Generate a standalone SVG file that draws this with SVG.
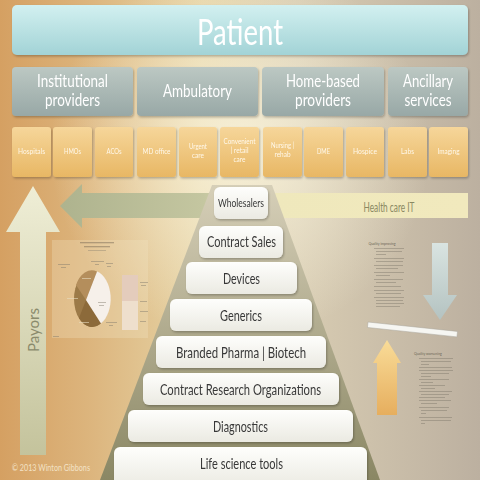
<svg xmlns="http://www.w3.org/2000/svg" width="480" height="480" viewBox="0 0 480 480">
<defs>
<linearGradient id="bg" x1="0" y1="0" x2="1" y2="0">
<stop offset="0" stop-color="#d5a062"/>
<stop offset="0.18" stop-color="#dcb47c"/>
<stop offset="0.42" stop-color="#e6d4a6"/>
<stop offset="0.62" stop-color="#d8ccb2"/>
<stop offset="1" stop-color="#bcb0a0"/>
</linearGradient>
<radialGradient id="glow" cx="240" cy="150" r="190" gradientUnits="userSpaceOnUse">
<stop offset="0" stop-color="#fbf6e0" stop-opacity="0.85"/>
<stop offset="1" stop-color="#fbf6e0" stop-opacity="0"/>
</radialGradient>
<linearGradient id="pat" x1="0" y1="0" x2="0" y2="1">
<stop offset="0" stop-color="#d2f0f0"/>
<stop offset="1" stop-color="#a2d3d6"/>
</linearGradient>
<linearGradient id="cat" x1="0" y1="0" x2="0" y2="1">
<stop offset="0" stop-color="#bcc8c3"/>
<stop offset="1" stop-color="#98a8a6"/>
</linearGradient>
<linearGradient id="org" x1="0" y1="0" x2="0" y2="1">
<stop offset="0" stop-color="#f6d69a"/>
<stop offset="1" stop-color="#e8b764"/>
</linearGradient>
<linearGradient id="pyr" x1="0" y1="0" x2="0" y2="1">
<stop offset="0" stop-color="#d6cfb8"/>
<stop offset="1" stop-color="#8a8764"/>
</linearGradient>
<linearGradient id="wbox" x1="0" y1="0" x2="0" y2="1">
<stop offset="0" stop-color="#fefefc"/>
<stop offset="1" stop-color="#ebeae2"/>
</linearGradient>
<linearGradient id="hit" x1="60" y1="0" x2="468" y2="0" gradientUnits="userSpaceOnUse">
<stop offset="0" stop-color="#aeb38e"/>
<stop offset="0.35" stop-color="#c4c6a0"/>
<stop offset="0.52" stop-color="#efe8bc"/>
<stop offset="1" stop-color="#f1e9bd"/>
</linearGradient>
<linearGradient id="pay" x1="0" y1="0" x2="0" y2="1">
<stop offset="0" stop-color="#efeed6"/>
<stop offset="1" stop-color="#c4c39c"/>
</linearGradient>
<linearGradient id="down" x1="0" y1="0" x2="0" y2="1">
<stop offset="0" stop-color="#dce9e8"/>
<stop offset="1" stop-color="#b2c4c4"/>
</linearGradient>
<linearGradient id="up" x1="0" y1="0" x2="0" y2="1">
<stop offset="0" stop-color="#f9dc98"/>
<stop offset="1" stop-color="#e6ae5e"/>
</linearGradient>
<filter id="sh" x="-10%" y="-10%" width="130%" height="140%">
<feDropShadow dx="1" dy="1.5" stdDeviation="1" flood-color="#000" flood-opacity="0.25"/>
</filter>
</defs>
<style>
text{font-family:Lato,"Liberation Sans",sans-serif;text-anchor:middle}
.w{fill:#ffffff}
.cat{font-size:16.5px}
.sm{font-size:7px;fill:#fff8ea}
.py{font-size:15px;fill:#383838}
.tl{fill:#7e786a;opacity:0.45}
</style>

<!-- background -->
<rect x="0" y="0" width="480" height="480" fill="url(#bg)"/>
<rect x="0" y="0" width="480" height="480" fill="url(#glow)"/>

<!-- connectors / arrows -->
<g id="connectors">
<path id="healthcare-it-arrow" d="M468,193 L82,193 L82,184 L60,206 L82,228 L82,218 L468,218 Z" fill="url(#hit)"/>
<path id="payors-arrow" d="M33,186 L60,232 L46,232 L46,455 L20,455 L20,232 L6,232 Z" fill="url(#pay)"/>
<path id="down-arrow" d="M432,243 L448,243 L448,295 L457,295 L440,320 L423,295 L432,295 Z" fill="url(#down)" opacity="0.9"/>
<path id="up-arrow" d="M387,340 L401,363 L397,363 L397,415 L377,415 L377,363 L373,363 Z" fill="url(#up)"/>
</g>
<text x="389" y="212" style="font-size:13px;fill:#8a8862" textLength="51" lengthAdjust="spacingAndGlyphs">Health care IT</text>
<text transform="translate(39,330) rotate(-90)" style="font-size:16px;fill:#8a8a6c" textLength="44" lengthAdjust="spacingAndGlyphs">Payors</text>

<!-- pyramid -->
<polygon points="212,185 272,185 380,480 100,480" fill="url(#pyr)"/>

<!-- Patient -->
<g id="patient" filter="url(#sh)">
<rect x="12" y="5" width="456" height="50" rx="5" fill="url(#pat)"/>
<text x="240" y="45" class="w" style="font-size:36px" textLength="86" lengthAdjust="spacingAndGlyphs">Patient</text>
</g>

<!-- categories -->
<g id="institutional" filter="url(#sh)">
<rect x="12" y="67" width="121" height="49" rx="4" fill="url(#cat)"/>
<text x="72.5" y="87" class="w cat" textLength="71" lengthAdjust="spacingAndGlyphs">Institutional</text>
<text x="72.5" y="106" class="w cat" textLength="55" lengthAdjust="spacingAndGlyphs">providers</text>
</g>
<g id="ambulatory" filter="url(#sh)">
<rect x="137" y="67" width="121" height="49" rx="4" fill="url(#cat)"/>
<text x="197.5" y="97" class="w cat" textLength="69" lengthAdjust="spacingAndGlyphs">Ambulatory</text>
</g>
<g id="home-based" filter="url(#sh)">
<rect x="262" y="67" width="122" height="49" rx="4" fill="url(#cat)"/>
<text x="323" y="87" class="w cat" textLength="74" lengthAdjust="spacingAndGlyphs">Home-based</text>
<text x="323" y="106" class="w cat" textLength="56" lengthAdjust="spacingAndGlyphs">providers</text>
</g>
<g id="ancillary" filter="url(#sh)">
<rect x="388" y="67" width="80" height="49" rx="4" fill="url(#cat)"/>
<text x="428" y="87" class="w cat" textLength="50" lengthAdjust="spacingAndGlyphs">Ancillary</text>
<text x="428" y="106" class="w cat" textLength="47" lengthAdjust="spacingAndGlyphs">services</text>
</g>

<!-- small orange boxes -->
<g id="hospitals" filter="url(#sh)"><rect x="12" y="127" width="39" height="50" rx="3" fill="url(#org)"/><text x="31.5" y="154" class="sm" textLength="27" lengthAdjust="spacingAndGlyphs">Hospitals</text></g>
<g id="hmos" filter="url(#sh)"><rect x="53" y="127" width="39" height="50" rx="3" fill="url(#org)"/><text x="72.5" y="154" class="sm" textLength="17" lengthAdjust="spacingAndGlyphs">HMOs</text></g>
<g id="acos" filter="url(#sh)"><rect x="95" y="127" width="38" height="50" rx="3" fill="url(#org)"/><text x="114" y="154" class="sm" textLength="15" lengthAdjust="spacingAndGlyphs">ACOs</text></g>
<g id="md-office" filter="url(#sh)"><rect x="137" y="127" width="39" height="50" rx="3" fill="url(#org)"/><text x="156.5" y="154" class="sm" textLength="28" lengthAdjust="spacingAndGlyphs">MD office</text></g>
<g id="urgent-care" filter="url(#sh)"><rect x="179" y="127" width="38" height="50" rx="3" fill="url(#org)"/><text x="198" y="149" class="sm" textLength="18" lengthAdjust="spacingAndGlyphs">Urgent</text><text x="198" y="158" class="sm" textLength="12" lengthAdjust="spacingAndGlyphs">care</text></g>
<g id="convenient-care" filter="url(#sh)"><rect x="220" y="127" width="39" height="50" rx="3" fill="url(#org)"/><text x="239.5" y="144" class="sm" textLength="32" lengthAdjust="spacingAndGlyphs">Convenient</text><text x="239.5" y="153" class="sm" textLength="18" lengthAdjust="spacingAndGlyphs">| retail</text><text x="239.5" y="162" class="sm" textLength="12" lengthAdjust="spacingAndGlyphs">care</text></g>
<g id="nursing-rehab" filter="url(#sh)"><rect x="263" y="127" width="39" height="50" rx="3" fill="url(#org)"/><text x="282.5" y="148" class="sm" textLength="23" lengthAdjust="spacingAndGlyphs">Nursing |</text><text x="282.5" y="157" class="sm" textLength="16" lengthAdjust="spacingAndGlyphs">rehab</text></g>
<g id="dme" filter="url(#sh)"><rect x="304" y="127" width="39" height="50" rx="3" fill="url(#org)"/><text x="323.5" y="154" class="sm" textLength="13" lengthAdjust="spacingAndGlyphs">DME</text></g>
<g id="hospice" filter="url(#sh)"><rect x="346" y="127" width="38" height="50" rx="3" fill="url(#org)"/><text x="365" y="154" class="sm" textLength="24" lengthAdjust="spacingAndGlyphs">Hospice</text></g>
<g id="labs" filter="url(#sh)"><rect x="388" y="127" width="39" height="50" rx="3" fill="url(#org)"/><text x="407.5" y="154" class="sm" textLength="13" lengthAdjust="spacingAndGlyphs">Labs</text></g>
<g id="imaging" filter="url(#sh)"><rect x="429" y="127" width="39" height="50" rx="3" fill="url(#org)"/><text x="448.5" y="154" class="sm" textLength="22" lengthAdjust="spacingAndGlyphs">Imaging</text></g>

<!-- pyramid boxes -->
<g id="wholesalers" filter="url(#sh)"><rect x="214" y="187" width="54" height="32" rx="6" fill="url(#wbox)"/><text x="241" y="207" class="py" style="font-size:12px" textLength="46" lengthAdjust="spacingAndGlyphs">Wholesalers</text></g>
<g id="contract-sales" filter="url(#sh)"><rect x="199" y="226" width="84" height="32" rx="6" fill="url(#wbox)"/><text x="241.5" y="247" class="py" textLength="69" lengthAdjust="spacingAndGlyphs">Contract Sales</text></g>
<g id="devices" filter="url(#sh)"><rect x="186" y="262" width="111" height="32" rx="6" fill="url(#wbox)"/><text x="241.5" y="284" class="py" textLength="37" lengthAdjust="spacingAndGlyphs">Devices</text></g>
<g id="generics" filter="url(#sh)"><rect x="170" y="299" width="142" height="32" rx="6" fill="url(#wbox)"/><text x="241" y="321" class="py" textLength="42" lengthAdjust="spacingAndGlyphs">Generics</text></g>
<g id="branded-pharma" filter="url(#sh)"><rect x="156" y="336" width="170" height="32" rx="6" fill="url(#wbox)"/><text x="241" y="358" class="py" textLength="130" lengthAdjust="spacingAndGlyphs">Branded Pharma | Biotech</text></g>
<g id="cro" filter="url(#sh)"><rect x="143" y="373" width="196" height="32" rx="6" fill="url(#wbox)"/><text x="240.5" y="395" class="py" textLength="161" lengthAdjust="spacingAndGlyphs">Contract Research Organizations</text></g>
<g id="diagnostics" filter="url(#sh)"><rect x="128" y="410" width="225" height="32" rx="6" fill="url(#wbox)"/><text x="240.5" y="432" class="py" textLength="55" lengthAdjust="spacingAndGlyphs">Diagnostics</text></g>
<g id="life-science-tools" filter="url(#sh)"><rect x="114" y="447" width="253" height="40" rx="6" fill="url(#wbox)"/><text x="241.5" y="469" class="py" textLength="83" lengthAdjust="spacingAndGlyphs">Life science tools</text></g>

<!-- pie chart panel -->
<g id="chart">
<rect x="52" y="240" width="96" height="98" fill="#f2e6c4" opacity="0.3"/>
<rect x="80" y="242" width="34" height="1.3" fill="#6e6250" opacity="0.45"/>
<rect x="84" y="246" width="26" height="1.3" fill="#6e6250" opacity="0.45"/>
<rect x="88" y="250" width="18" height="0.8" class="tl"/>
<rect x="58" y="264" width="12" height="1" class="tl"/><rect x="61" y="267" width="5" height="1" class="tl"/>
<rect x="91" y="261" width="13" height="1" class="tl"/><rect x="95" y="264" width="4" height="1" class="tl"/>
<rect x="106" y="263" width="7" height="1" class="tl"/><rect x="107" y="266" width="4" height="1" class="tl"/>
<ellipse cx="92" cy="299" rx="18" ry="28" fill="#9c7a48"/>
<path d="M86,300 L97,271.5 A18,28 0 0,0 76,285 Z" fill="#b48e5c"/>
<path d="M86,300 L79,318 A18,28 0 0,0 101,323.5 Z" fill="#8c6a3a"/>
<path d="M86,300 L97,271.5 A18,28 0 0,1 101,323.5 Z" fill="#f6f0ea"/>
<rect x="82" y="278" width="9" height="1" fill="#e8dcc0" opacity="0.6"/>
<rect x="67" y="298" width="11" height="1" fill="#e8dcc0" opacity="0.6"/>
<rect x="79" y="322" width="10" height="1" fill="#e8dcc0" opacity="0.6"/>
<rect x="98" y="302" width="8" height="1" class="tl"/><rect x="99" y="305" width="5" height="1" class="tl"/>
<rect x="106" y="322" width="11" height="1" class="tl"/><rect x="109" y="325" width="4" height="1" class="tl"/>
<rect x="122" y="275" width="16" height="26" fill="#e4ccbc"/>
<rect x="122" y="301" width="16" height="29" fill="#eedfcd"/>
<rect x="140" y="282" width="8" height="1" class="tl"/><rect x="141" y="285" width="5" height="1" class="tl"/>
<rect x="140" y="301" width="7" height="1" class="tl"/><rect x="140" y="311" width="8" height="1" class="tl"/>
<rect x="140" y="321" width="6" height="1" class="tl"/>
<rect x="53" y="336" width="6" height="1" class="tl"/>
</g>

<!-- text blocks right -->
<g id="quality-improving">
<text x="382" y="245" style="font-size:3.5px;fill:#6e6858">Quality improving</text>
<rect x="374" y="248" width="30" height="1" class="tl"/><rect x="376" y="251" width="26" height="1" class="tl"/><rect x="376" y="254" width="10" height="1" class="tl"/>
<rect x="374" y="258" width="30" height="1" class="tl"/><rect x="376" y="261" width="27" height="1" class="tl"/>
<rect x="374" y="265" width="29" height="1" class="tl"/><rect x="376" y="268" width="22" height="1" class="tl"/>
<rect x="374" y="272" width="30" height="1" class="tl"/><rect x="376" y="275" width="14" height="1" class="tl"/>
<rect x="374" y="279" width="29" height="1" class="tl"/><rect x="376" y="282" width="20" height="1" class="tl"/>
<rect x="374" y="286" width="27" height="1" class="tl"/>
<rect x="374" y="290" width="30" height="1" class="tl"/><rect x="376" y="293" width="25" height="1" class="tl"/>
<rect x="374" y="297" width="30" height="1" class="tl"/><rect x="376" y="300" width="27" height="1" class="tl"/>
<rect x="376" y="303" width="28" height="1" class="tl"/><rect x="376" y="306" width="24" height="1" class="tl"/>
</g>
<g id="quality-bar">
<rect x="368" y="322" width="90" height="5.5" fill="#f6f6f2" stroke="#aaa79c" stroke-width="0.5" transform="rotate(6 368 322)"/>
</g>
<g id="quality-worsening">
<text x="428" y="355" style="font-size:3.5px;fill:#6e6858">Quality worsening</text>
<rect x="419" y="358" width="34" height="1" class="tl"/><rect x="421" y="361" width="30" height="1" class="tl"/><rect x="421" y="364" width="8" height="1" class="tl"/>
<rect x="419" y="367" width="33" height="1" class="tl"/><rect x="419" y="370" width="34" height="1" class="tl"/><rect x="421" y="373" width="28" height="1" class="tl"/>
<rect x="421" y="376" width="10" height="1" class="tl"/><rect x="419" y="379" width="30" height="1" class="tl"/><rect x="421" y="382" width="12" height="1" class="tl"/>
<rect x="419" y="385" width="26" height="1" class="tl"/><rect x="421" y="388" width="14" height="1" class="tl"/>
<rect x="419" y="391" width="33" height="1" class="tl"/><rect x="421" y="394" width="28" height="1" class="tl"/>
<rect x="419" y="397" width="26" height="1" class="tl"/><rect x="419" y="400" width="32" height="1" class="tl"/><rect x="421" y="403" width="16" height="1" class="tl"/>
<rect x="419" y="407" width="30" height="1" class="tl"/><rect x="421" y="410" width="26" height="1" class="tl"/><rect x="421" y="413" width="5" height="1" class="tl"/>
<rect x="419" y="417" width="33" height="1" class="tl"/><rect x="421" y="420" width="30" height="1" class="tl"/><rect x="421" y="423" width="4" height="1" class="tl"/>
</g>

<text x="51" y="471" style="font-size:9.5px;fill:#f3e2c6" textLength="78" lengthAdjust="spacingAndGlyphs">© 2013 Winton Gibbons</text>
</svg>
